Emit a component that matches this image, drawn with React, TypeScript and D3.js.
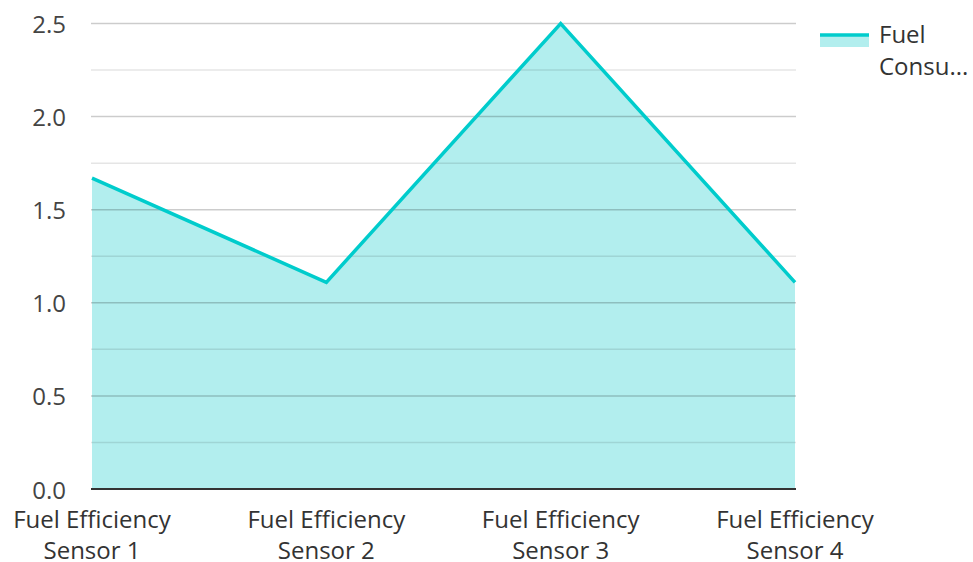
import React, { useRef, useEffect } from 'react';
import * as d3 from 'd3';

const categories = ['Fuel Efficiency Sensor 1', 'Fuel Efficiency Sensor 2', 'Fuel Efficiency Sensor 3', 'Fuel Efficiency Sensor 4'];
const fuelValues = [1.67, 1.11, 2.5, 1.11];
const majorTicks = [0, 0.5, 1.0, 1.5, 2.0, 2.5];
const minorTicks = [0.25, 0.75, 1.25, 1.75, 2.25];

const App = () => {
  const svgRef = useRef<SVGSVGElement>(null);
  const width = 973;
  const height = 562;
  const margin = { top: 23.5, right: 178, bottom: 73, left: 92 };
  const font = '"Open Sans", "Noto Sans", sans-serif';

  useEffect(() => {
    const svg = d3.select(svgRef.current);
    svg.selectAll('*').remove();

    const x = d3.scalePoint()
      .domain(categories)
      .range([margin.left, width - margin.right])
      .padding(0);

    const y = d3.scaleLinear()
      .domain([0, 2.5])
      .range([height - margin.bottom, margin.top]);

    const data = categories.map((c, i) => ({ c, v: fuelValues[i] }));

    // Area
    const area = d3.area<any>()
      .x(d => x(d.c)!)
      .y0(y(0))
      .y1(d => y(d.v));
    svg.append('path')
      .datum(data)
      .attr('d', area)
      .attr('fill', '#00c8c8')
      .attr('fill-opacity', 0.3);

    // Grid lines over the area
    svg.selectAll('line.minor')
      .data(minorTicks)
      .join('line')
      .attr('class', 'minor')
      .attr('x1', margin.left - 1)
      .attr('x2', width - margin.right + 1)
      .attr('y1', d => y(d))
      .attr('y2', d => y(d))
      .attr('stroke', 'rgba(0,0,0,0.1)')
      .attr('stroke-width', 1.5);

    svg.selectAll('line.major')
      .data(majorTicks.filter(d => d > 0))
      .join('line')
      .attr('class', 'major')
      .attr('x1', margin.left - 1)
      .attr('x2', width - margin.right + 1)
      .attr('y1', d => y(d))
      .attr('y2', d => y(d))
      .attr('stroke', 'rgba(0,0,0,0.2)')
      .attr('stroke-width', 1.5);

    // Zero line
    svg.append('line')
      .attr('x1', margin.left - 1)
      .attr('x2', width - margin.right + 1)
      .attr('y1', y(0))
      .attr('y2', y(0))
      .attr('stroke', '#333')
      .attr('stroke-width', 2);

    // Line
    const line = d3.line<any>()
      .x(d => x(d.c)!)
      .y(d => y(d.v));
    svg.append('path')
      .datum(data)
      .attr('d', line)
      .attr('fill', 'none')
      .attr('stroke', '#00cccc')
      .attr('stroke-width', 3.5)
      .attr('stroke-linejoin', 'miter');

    // Y tick labels
    svg.selectAll('text.ytick')
      .data(majorTicks)
      .join('text')
      .attr('class', 'ytick')
      .attr('x', 66)
      .attr('y', d => y(d))
      .attr('text-anchor', 'end')
      .attr('dominant-baseline', 'central')
      .attr('font-family', font)
      .attr('font-size', '24px')
      .attr('fill', '#444')
      .text(d => d.toFixed(1));

    // X labels (two lines)
    const xl = svg.selectAll('text.xlabel')
      .data(categories)
      .join('text')
      .attr('class', 'xlabel')
      .attr('text-anchor', 'middle')
      .attr('font-family', font)
      .attr('font-size', '24px')
      .attr('fill', '#333');
    xl.append('tspan')
      .attr('x', d => x(d)!)
      .attr('y', 528)
      .text('Fuel Efficiency');
    xl.append('tspan')
      .attr('x', d => x(d)!)
      .attr('y', 559)
      .text(d => d.replace('Fuel Efficiency ', ''));

    // Legend
    const lg = svg.append('g');
    lg.append('rect')
      .attr('x', 820)
      .attr('y', 35)
      .attr('width', 49)
      .attr('height', 12)
      .attr('fill', '#00c8c8')
      .attr('fill-opacity', 0.3);
    lg.append('line')
      .attr('x1', 820)
      .attr('x2', 869)
      .attr('y1', 35)
      .attr('y2', 35)
      .attr('stroke', '#00cccc')
      .attr('stroke-width', 3.5);
    lg.append('text')
      .attr('x', 879)
      .attr('y', 43)
      .attr('font-family', font)
      .attr('font-size', '24px')
      .attr('fill', '#333')
      .text('Fuel');
    lg.append('text')
      .attr('x', 879)
      .attr('y', 75)
      .attr('font-family', font)
      .attr('font-size', '24px')
      .attr('fill', '#333')
      .text('Consu...');
  }, []);

  return (
    <svg
      ref={svgRef}
      width={width}
      height={height}
      style={{ position: 'absolute', left: 0, top: 0, background: '#fff' }}
    />
  );
};

export default App;
